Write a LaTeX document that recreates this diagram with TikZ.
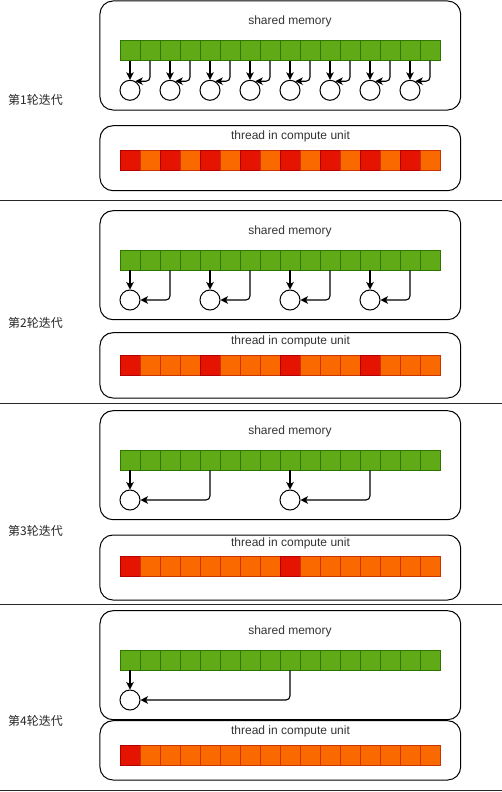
\documentclass[tikz,border=0pt]{standalone}
\usepackage{fontspec}
\setmainfont{Liberation Sans}
\newfontfamily\cjk{Noto Sans CJK SC}
\usetikzlibrary{arrows.meta}
\definecolor{memgreen}{HTML}{60A917}
\definecolor{memgreenline}{HTML}{2D7600}
\definecolor{thrred}{HTML}{E51400}
\definecolor{thrredline}{HTML}{B20000}
\definecolor{throrange}{HTML}{FA6800}
\definecolor{throrangeline}{HTML}{C73500}

\begin{document}
\begin{tikzpicture}[x=1pt, y=-1pt,
  box/.style={draw, rounded corners=13pt, line width=1pt, minimum width=360.7pt, inner sep=0pt},
  title/.style={text=black!80, font=\fontsize{12}{14}\selectfont, inner sep=0pt},
  cell/.style={draw, line width=0.5pt, minimum size=20pt, inner sep=0pt},
  mem/.style={cell, fill=memgreen, draw=memgreenline},
  hot/.style={cell, fill=thrred, draw=thrredline},
  cold/.style={cell, fill=throrange, draw=throrangeline},
  slot/.style={draw, circle, line width=1pt, minimum size=20pt, inner sep=0pt},
  arr/.style={line width=1.1pt, -{Stealth[length=7.5pt, width=7.5pt, inset=2pt]}, rounded corners=4pt}]
\useasboundingbox (0,0) rectangle (502,792);
\foreach \k/\T/\U/\H/\ta/\ba/\sep/\ly in {1/1/125.7/65/10.3/24.3/200/100,
    2/210.7/332.7/65.3/8/22.3/403.3/323,
    3/410.7/535/65/7.7/21.7/604/531,
    4/610.7/720.7/59.3/10/24.3/790.7/721}{
  \pgfmathtruncatemacro\s{2^\k}
  \pgfmathtruncatemacro\h{2^(\k-1)}
  \pgfmathtruncatemacro\n{16/\s-1}
  \node[box, minimum height=109pt] (sm\k) at (280.3,\T+54.5) {};
  \node[title] (smt\k) at (290,\T+20.5) {shared memory};
  \node[box, minimum height=\H pt] (cu\k) at (280.3,\U+\H/2) {};
  \node[title] (cut\k) at (290.5,\U+\ta+0.5) {thread in compute unit};
  \node[title, text=black!85] (it\k) at (35.5,\ly) {\cjk 第\k 轮迭代};
  \foreach \i in {0,...,15}{
    \node[mem] (g\k-\i) at (130+20*\i,\T+49.5) {};
    \pgfmathtruncatemacro\r{mod(\i,\s)}
    \ifnum\r=0
      \node[hot] (t\k-\i) at (130+20*\i,\U+\ba+10) {};
    \else
      \node[cold] (t\k-\i) at (130+20*\i,\U+\ba+10) {};
    \fi
  }
  \foreach \j in {0,...,\n}{
    \pgfmathtruncatemacro\i{\j*\s}
    \pgfmathtruncatemacro\m{\i+\h}
    \node[slot] (c\k-\i) at (130+20*\i,\T+89.3) {};
    \draw[arr] (g\k-\i.south) -- (c\k-\i.north);
    \ifnum\k=1
      \draw[arr] (g\k-\m.south) |- (c\k-\i.60);
    \else
      \draw[arr] (g\k-\m.south) |- (c\k-\i.east);
    \fi
  }
  \coordinate (sl\k) at (0,\sep);
  \coordinate (sr\k) at (502,\sep);
  \draw[line width=1pt, black!85] (sl\k) -- (sr\k);
}
\end{tikzpicture}
\end{document}
